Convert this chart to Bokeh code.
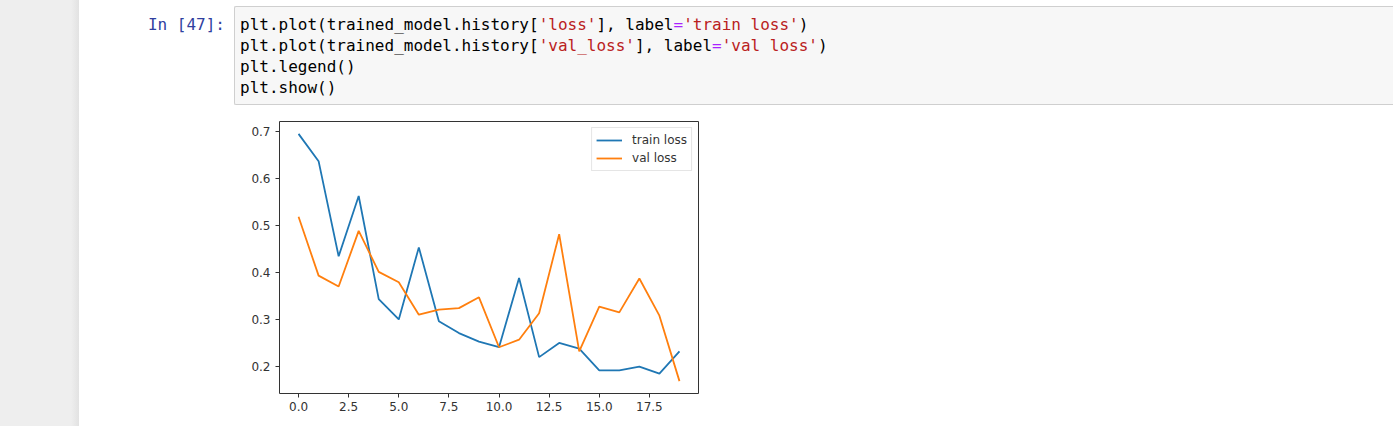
from bokeh.plotting import figure
from bokeh.models import Div, FixedTicker, PrintfTickFormatter, Legend, LegendItem, Range1d
from bokeh.layouts import row, column
from bokeh.embed import file_html
from bokeh.resources import INLINE

# ---- data ----
epochs = list(range(20))
train_loss = [0.694, 0.636, 0.434, 0.562, 0.343, 0.300, 0.453, 0.296, 0.271, 0.253,
              0.241, 0.388, 0.220, 0.250, 0.238, 0.192, 0.192, 0.200, 0.185, 0.232]
val_loss = [0.518, 0.393, 0.370, 0.488, 0.401, 0.379, 0.310, 0.321, 0.324, 0.347,
            0.241, 0.257, 0.313, 0.481, 0.232, 0.327, 0.315, 0.387, 0.308, 0.169]
x_ticks = [0.0, 2.5, 5.0, 7.5, 10.0, 12.5, 15.0, 17.5]
y_ticks = [0.2, 0.3, 0.4, 0.5, 0.6, 0.7]
series_labels = ["train loss", "val loss"]
series_colors = ["#1f77b4", "#ff7f0e"]
prompt_text = "In [47]:"

MONO = "DejaVu Sans Mono, monospace"
S = "color:#BA2121"
O = "color:#AA22FF"
code_lines = [
    f"plt.plot(trained_model.history[<span style='{S}'>'loss'</span>], label<span style='{O}'>=</span><span style='{S}'>'train loss'</span>)",
    f"plt.plot(trained_model.history[<span style='{S}'>'val_loss'</span>], label<span style='{O}'>=</span><span style='{S}'>'val loss'</span>)",
    "plt.legend()",
    "plt.show()",
]

# ---- notebook chrome ----
gray = Div(text='<div style="width:79px;height:426px;'
                'background:linear-gradient(to right,#eeeeee 90%,#e2e2e2 100%);"></div>',
           width=79, height=426, margin=0)

prompt_div = Div(text=f'<div style="box-sizing:border-box;width:155px;height:99px;margin-top:6px;'
                      f'padding:8px 9px 0 0;text-align:right;font-family:{MONO};font-size:16px;'
                      f'line-height:21px;color:#303F9F;white-space:pre;">{prompt_text}</div>',
                 width=155, height=105, margin=0)

code_html = "<br>".join(code_lines)
code_div = Div(text=f'<div style="box-sizing:border-box;width:1159px;height:99px;margin-top:6px;'
                    f'background:#f7f7f7;border:1px solid #cfcfcf;border-right:none;border-radius:2px 0 0 2px;'
                    f'padding:7px 0 0 5px;font-family:{MONO};font-size:16px;line-height:21px;'
                    f'color:#000;white-space:pre;">{code_html}</div>',
               width=1159, height=105, margin=0)

# ---- chart ----
ymin, ymax = min(train_loss + val_loss), max(train_loss + val_loss)
yspan = ymax - ymin
xspan = epochs[-1] - epochs[0]
p = figure(frame_width=419, frame_height=272,
           min_border_left=200, min_border_top=16, min_border_bottom=33, min_border_right=10,
           x_range=Range1d(epochs[0] - 0.05 * xspan, epochs[-1] + 0.05 * xspan),
           y_range=Range1d(ymin - 0.05 * yspan, ymax + 0.05 * yspan),
           output_backend="svg", toolbar_location=None, margin=0)
p.xgrid.visible = False
p.ygrid.visible = False
p.outline_line_color = "#333333"
p.outline_line_width = 1
p.background_fill_color = "white"
p.border_fill_color = "white"

for ax in (p.xaxis[0], p.yaxis[0]):
    ax.axis_line_color = None
    ax.major_tick_in = 0
    ax.major_tick_out = 4
    ax.major_tick_line_color = "#333333"
    ax.minor_tick_line_color = None
    ax.major_label_text_font = "DejaVu Sans"
    ax.major_label_text_font_size = "12px"
    ax.major_label_text_color = "#333333"
    ax.formatter = PrintfTickFormatter(format="%.1f")
p.xaxis[0].ticker = FixedTicker(ticks=x_ticks)
p.yaxis[0].ticker = FixedTicker(ticks=y_ticks)
p.xaxis[0].major_label_standoff = 4
p.yaxis[0].major_label_standoff = 5

r1 = p.line(epochs, train_loss, line_color=series_colors[0], line_width=1.8)
r2 = p.line(epochs, val_loss, line_color=series_colors[1], line_width=1.8)

legend = Legend(items=[LegendItem(label=series_labels[0], renderers=[r1]),
                       LegendItem(label=series_labels[1], renderers=[r2])],
                location="top_right", margin=6, padding=4, spacing=2,
                glyph_width=26, glyph_height=16, label_height=16, label_standoff=10,
                label_text_font="DejaVu Sans", label_text_font_size="12px",
                label_text_color="#333333",
                border_line_color="#cccccc", border_line_width=1,
                background_fill_color="white", background_fill_alpha=0.8)
p.add_layout(legend, "center")

content = column(row(prompt_div, code_div, margin=0), p, margin=0)
root = row(gray, content, margin=0)

open("out.html", "w").write(file_html(root, INLINE))
